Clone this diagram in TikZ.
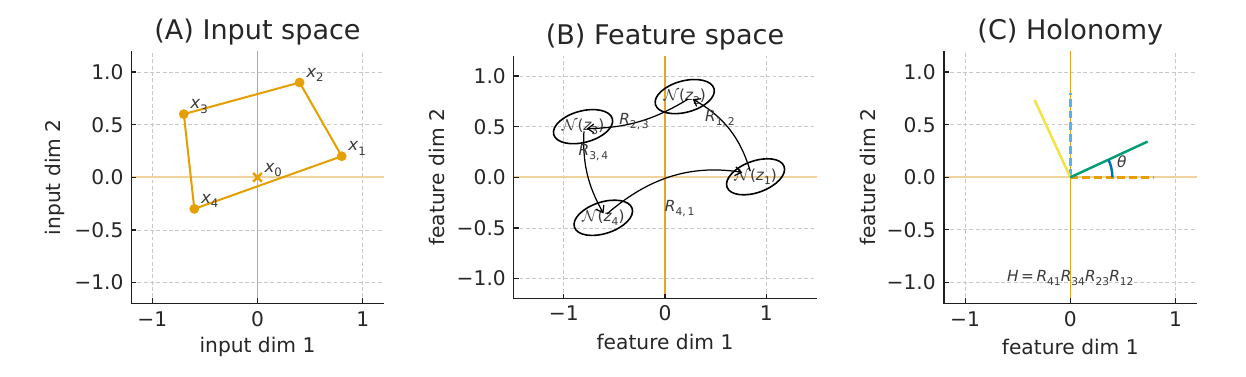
\documentclass[tikz,border=0pt]{standalone}
\usepackage{fontspec}
\setmainfont{DejaVu Sans}
\usetikzlibrary{arrows.meta,shapes.misc}
\definecolor{okor}{HTML}{E69F00}
\definecolor{oksky}{HTML}{56B4E9}
\definecolor{okgreen}{HTML}{009E73}
\definecolor{okyellow}{HTML}{F0E442}
\definecolor{okblue}{HTML}{0072B2}
\definecolor{txt}{HTML}{262626}
\definecolor{lbl}{HTML}{3A3A3A}
\definecolor{gridc}{HTML}{C8C8C8}
\definecolor{zvc}{HTML}{E6A425}
\definecolor{zhc}{HTML}{EFD39A}
\newcommand{\sbs}[1]{\raisebox{-0.25em}{\scalebox{0.7}{#1}}}
\newcommand{\mvar}[2]{{\itshape #1}\sbs{#2}}
\tikzset{
  spine/.style={draw=black!88, line width=0.7pt},
  gridline/.style={draw=gridc, line width=0.45pt, dash pattern=on 2.2pt off 1.4pt},
  zeroh/.style={draw=zhc, line width=0.9pt},
  zerov/.style={draw=zvc, line width=0.75pt},
  ticklab/.style={text=txt, font=\fontsize{11.5}{13}\selectfont, inner sep=0pt},
  axlab/.style={text=txt, font=\fontsize{11.5}{13}\selectfont, inner sep=0pt},
  ttl/.style={text=txt, font=\fontsize{15.4}{18}\selectfont, inner sep=0pt},
  ptlab/.style={text=lbl, font=\fontsize{9.5}{11}\selectfont, inner sep=0pt, anchor=base west},
  small/.style={text=lbl, font=\fontsize{8.7}{10}\selectfont, inner sep=0pt},
  poly/.style={draw=okor, line width=1.15pt, line join=round},
  ellz/.style={draw=black, line width=0.9pt},
  rarr/.style={draw=black, line width=0.7pt, -{Straight Barb[length=3.5pt,width=5pt]}, shorten <=1.5pt, shorten >=1.5pt},
  vecsolid/.style={line width=1.4pt},
  vecdash/.style={line width=1.4pt, dash pattern=on 4.5pt off 2.2pt},
}
% #1 prefix, #2 xmax, #3 ymax, #4 y-tick label x, #5 x-tick label y
\newcommand{\panelaxes}[5]{%
  \foreach \v in {-1,1} \draw[gridline] (\v,-#3) -- (\v,#3);
  \foreach \v in {-1,-0.5,0.5,1} \draw[gridline] (-#2,\v) -- (#2,\v);
  \draw[zeroh] (-#2,0) -- (#2,0);
  \draw[zerov] (0,-#3) -- (0,#3);
  \draw[spine] (-#2,#3) -- (-#2,-#3) -- (#2,-#3);
  \foreach \v/\t [count=\i] in {-1/−1,0/0,1/1} {%
    \draw[spine] (\v,-#3) -- ++(0,3pt);
    \node[ticklab] (#1x\i) at (\v,#5) {\t};}
  \foreach \v/\t [count=\i] in {-1/−1.0,-0.5/−0.5,0/0.0,0.5/0.5,1/1.0} {%
    \draw[spine] (-#2,\v) -- ++(3pt,0);
    \node[ticklab,anchor=east] (#1y\i) at (#4,\v) {\t};}
}
\begin{document}
\begin{tikzpicture}[x=0.02cm,y=0.02cm]
\useasboundingbox (0,0) rectangle (1246,377);

% ---------------- Panel A ----------------
\begin{scope}[shift={(257.5,199.7)},x=2.106cm,y=2.106cm]
  \panelaxes{a}{1.2}{1.2}{-1.27}{-1.346}
  \node[axlab] (axA) at (0,-1.61) {input dim 1};
  \node[axlab,rotate=90] (ayA) at (-1.925,0) {input dim 2};
  \node[ttl] (tA) at (0,1.377) {(A) Input space};
  \coordinate (x1) at (0.8,0.2);
  \coordinate (x2) at (0.4,0.9);
  \coordinate (x3) at (-0.7,0.6);
  \coordinate (x4) at (-0.6,-0.3);
  \coordinate (x0) at (0,0);
  \draw[poly] (x1) -- (x2) -- (x3) -- (x4) -- cycle;
  \foreach \p in {x1,x2,x3,x4} \fill[okor] (\p) circle (2.8pt);
  \node[cross out, draw=okor, line width=1.4pt, minimum size=3.6pt, inner sep=0pt] (x0m) at (x0) {};
  \node[ptlab] (lx1) at ([xshift=3.6pt,yshift=3pt]x1) {\mvar{x}{1}};
  \node[ptlab] (lx2) at ([xshift=3.6pt,yshift=3pt]x2) {\mvar{x}{2}};
  \node[ptlab] (lx3) at ([xshift=3.6pt,yshift=3pt]x3) {\mvar{x}{3}};
  \node[ptlab] (lx4) at ([xshift=3.6pt,yshift=3pt]x4) {\mvar{x}{4}};
  \node[ptlab] (lx0) at ([xshift=3.8pt,yshift=2.6pt]x0) {\mvar{x}{0}};
\end{scope}

% ---------------- Panel B ----------------
\begin{scope}[shift={(665,199.7)},x=2.024cm,y=2.026cm]
  \panelaxes{b}{1.5}{1.2}{-1.57}{-1.343}
  \node[axlab] (axB) at (0,-1.623) {feature dim 1};
  \node[axlab,rotate=90] (ayB) at (-2.256,0) {feature dim 2};
  \node[ttl] (tB) at (0,1.388) {(B) Feature space};
  % ellipse centres
  \coordinate (z1) at (0.895,0.005);
  \coordinate (z2) at (0.195,0.797);
  \coordinate (z3) at (-0.81,0.5);
  \coordinate (z4) at (-0.61,-0.4);
  \draw[ellz,rotate around={20:(z1)}] (z1) ellipse [x radius=0.3, y radius=0.155];
  \draw[ellz,rotate around={15:(z2)}] (z2) ellipse [x radius=0.3, y radius=0.155];
  \draw[ellz,rotate around={15:(z3)}] (z3) ellipse [x radius=0.3, y radius=0.155];
  \draw[ellz,rotate around={18:(z4)}] (z4) ellipse [x radius=0.3, y radius=0.155];
  \node[small] (n1) at (z1) {$\mathcal{N}$(\mvar{z}{1})};
  \node[small] (n2) at (z2) {$\mathcal{N}$(\mvar{z}{2})};
  \node[small] (n3) at (z3) {$\mathcal{N}$(\mvar{z}{3})};
  \node[small] (n4) at (z4) {$\mathcal{N}$(\mvar{z}{4})};
  % transport points
  \coordinate (p1) at (0.85,0.035);
  \coordinate (p2) at (0.25,0.785);
  \coordinate (p3) at (-0.8,0.48);
  \coordinate (p4) at (-0.595,-0.38);
  \draw[rarr] (p1) to[bend right=22] (p2);
  \draw[rarr] (p2) to[bend left=15] (p3);
  \draw[rarr] (p3) to[bend right=16] (p4);
  \draw[rarr,shorten >=5pt] (p4) to[bend left=25] (p1);
  \node[small] (r12) at (0.543,0.582) {\mvar{R}{1,\,2}};
  \node[small] (r23) at (-0.306,0.549) {\mvar{R}{2,\,3}};
  \node[small] (r34) at (-0.708,0.242) {\mvar{R}{3,\,4}};
  \node[small] (r41) at (0.145,-0.306) {\mvar{R}{4,\,1}};
\end{scope}

% ---------------- Panel C ----------------
\begin{scope}[shift={(1070.3,199.7)},x=2.104cm,y=2.104cm]
  \panelaxes{c}{1.2}{1.2}{-1.277}{-1.35}
  \node[axlab] (axC) at (0,-1.61) {feature dim 1};
  \node[axlab,rotate=90] (ayC) at (-1.92,0) {feature dim 2};
  \node[ttl] (tC) at (0,1.378) {(C) Holonomy};
  \coordinate (o) at (0,0);
  \coordinate (e1) at (0.8,0);
  \coordinate (e2) at (0,0.8);
  \coordinate (h1) at (24.8:0.81);
  \coordinate (h2) at (114.8:0.81);
  \draw[vecdash,draw=okor] (o) -- (e1);
  \draw[vecdash,draw=oksky] (o) -- (e2);
  \draw[vecsolid,draw=okyellow] (o) -- (h2);
  \draw[vecsolid,draw=okgreen] (o) -- (h1);
  \draw[vecsolid,draw=okblue] (0.4,0) arc[start angle=0,end angle=24.8,radius=0.4];
  \node[small] (th) at (0.49,0.148) {\itshape θ};
  \node[small] (hol) at (0,-0.955) {\itshape H\upshape\,=\,\mvar{R}{41}\mvar{R}{34}\mvar{R}{23}\mvar{R}{12}};
\end{scope}
\end{tikzpicture}
\end{document}
